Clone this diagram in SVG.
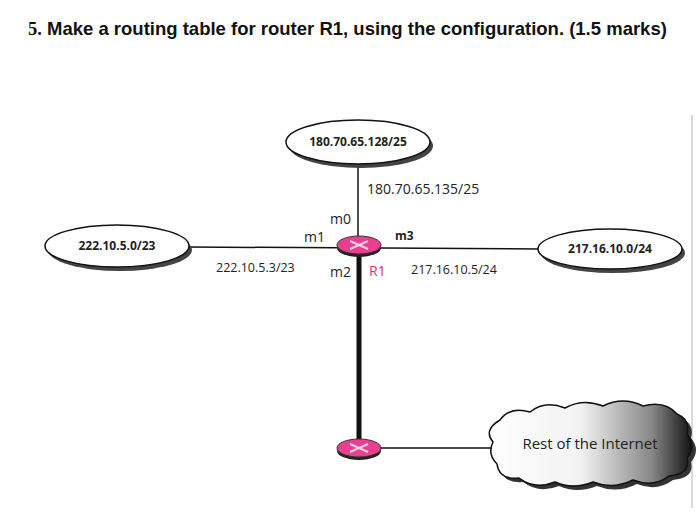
<svg xmlns="http://www.w3.org/2000/svg" width="700" height="518" viewBox="0 0 700 518">
<defs>
<style>
.lbl{font-family:"Open Sans","Liberation Sans",sans-serif;font-size:14px;fill:#222}
.sm{font-family:"Open Sans","Liberation Sans",sans-serif;font-size:12.5px;fill:#222}
.net{font-family:"Open Sans","Liberation Sans",sans-serif;font-size:12px;font-weight:bold;fill:#222}
.ell{fill:#fff;stroke:#111;stroke-width:1.5}
.sh{fill:#444}
</style>
<linearGradient id="cg" x1="0" x2="1" y1="0" y2="0">
<stop offset="0" stop-color="#fff"/><stop offset="0.45" stop-color="#f2f2f2"/><stop offset="0.8" stop-color="#888"/><stop offset="1" stop-color="#111"/>
</linearGradient>
<g id="router">
<ellipse cx="0" cy="3" rx="22" ry="9" fill="#222"/>
<ellipse cx="0" cy="0" rx="22" ry="9" fill="#e8408f" stroke="#333" stroke-width="1"/>
<path d="M-9,-4 L9,4 M-9,4 L9,-4" stroke="#fbd0e4" stroke-width="2"/>
</g>
</defs>
<rect width="700" height="518" fill="#fff"/>
<text x="28" y="35" font-family="Liberation Sans,Arial,sans-serif" font-size="18.5" font-weight="bold" fill="#111"><tspan font-family="Liberation Serif,serif">5.</tspan> Make a routing table for router R1, using the configuration. (1.5 marks)</text>
<line x1="692" y1="115" x2="692" y2="508" stroke="#ccc" stroke-width="1.5"/>
<g id="connectors" stroke="#111">
<line x1="358" y1="164" x2="358" y2="245" stroke-width="1.5"/>
<line x1="189" y1="247" x2="540" y2="249" stroke-width="1.5"/>
<line x1="359" y1="250" x2="359" y2="448" stroke-width="5"/>
<line x1="380" y1="448" x2="494" y2="448" stroke-width="1.5"/>
</g>
<g id="n180">
<ellipse cx="361" cy="146" rx="72" ry="22" class="sh"/>
<ellipse cx="358" cy="142" rx="72" ry="22" class="ell"/>
<text x="358" y="146" text-anchor="middle" class="net">180.70.65.128/25</text>
</g>
<g id="n222">
<ellipse cx="120" cy="250" rx="72" ry="21" class="sh"/>
<ellipse cx="117" cy="246" rx="72" ry="21" class="ell"/>
<text x="117" y="250" text-anchor="middle" class="net">222.10.5.0/23</text>
</g>
<g id="n217">
<ellipse cx="613" cy="253" rx="72" ry="20" class="sh"/>
<ellipse cx="610" cy="249" rx="72" ry="20" class="ell"/>
<text x="610" y="253" text-anchor="middle" class="net">217.16.10.0/24</text>
</g>
<g id="r1">
<use href="#router" x="359" y="245"/>
<text x="330" y="224" class="lbl">m0</text>
<text x="304" y="242" class="lbl">m1</text>
<text x="395" y="240" class="net">m3</text>
<text x="330" y="277" class="lbl">m2</text>
<text x="369" y="276" class="lbl" style="fill:#d6307f">R1</text>
<text x="367" y="194" class="lbl">180.70.65.135/25</text>
<text x="216" y="272" class="sm">222.10.5.3/23</text>
<text x="411" y="274" class="sm">217.16.10.5/24</text>
</g>
<g id="r2"><use href="#router" x="359" y="448"/></g>
<g id="cloud">
<path d="M500,420 q10,-14 30,-8 q15,-12 35,-4 q18,-10 38,-2 q20,-10 40,0 q22,-6 34,8 q14,6 10,20 q10,12 0,24 q4,16 -18,18 q-16,12 -36,4 q-20,10 -40,2 q-20,8 -38,0 q-20,8 -36,-4 q-20,2 -22,-14 q-10,-10 -4,-22 q-10,-12 7,-22 z" fill="#333" transform="translate(4,4)"/>
<path d="M500,420 q10,-14 30,-8 q15,-12 35,-4 q18,-10 38,-2 q20,-10 40,0 q22,-6 34,8 q14,6 10,20 q10,12 0,24 q4,16 -18,18 q-16,12 -36,4 q-20,10 -40,2 q-20,8 -38,0 q-20,8 -36,-4 q-20,2 -22,-14 q-10,-10 -4,-22 q-10,-12 7,-22 z" fill="url(#cg)" stroke="#111" stroke-width="1.5"/>
<text x="590" y="449" text-anchor="middle" class="lbl" style="font-size:15px">Rest of the Internet</text>
</g>
</svg>
